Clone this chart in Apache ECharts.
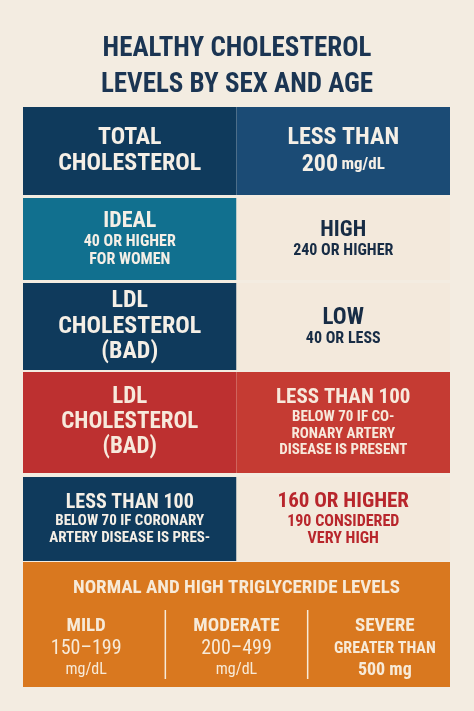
<!DOCTYPE html>
<html><head><meta charset="utf-8">
<script src="https://cdn.jsdelivr.net/npm/echarts@6/dist/echarts.min.js"></script>
<style>html,body{margin:0;background:#f3ece1}#c{width:474px;height:711px}</style>
</head><body><div id="c"></div>
<script>
const FONT = '"Liberation Sans Narrow","Roboto Condensed","Roboto",sans-serif';
const titleLines = ['HEALTHY CHOLESTEROL', 'LEVELS BY SEX AND AGE'];
// row bands (vertical extent in chart units, 0 = top of table)
const rowTops = [0, 91, 176, 265, 370];
const rowBottoms = [88, 173, 263, 366, 454];
const leftTexts = [
  ['TOTAL', 'CHOLESTEROL'],
  ['IDEAL', '40 OR HIGHER', 'FOR WOMEN'],
  ['LDL', 'CHOLESTEROL', '(BAD)'],
  ['LDL', 'CHOLESTEROL', '(BAD)'],
  ['LESS THAN 100', 'BELOW 70 IF CORONARY', 'ARTERY DISEASE IS PRES-']
];
const rightTexts = [
  ['LESS THAN', '200 mg/dL'],
  ['HIGH', '240 OR HIGHER'],
  ['LOW', '40 OR LESS'],
  ['LESS THAN 100', 'BELOW 70 IF CO-', 'RONARY ARTERY', 'DISEASE IS PRESENT'],
  ['160 OR HIGHER', '190 CONSIDERED', 'VERY HIGH']
];
const leftFill = ['#0f3a5c', '#11708f', '#0f3a5c', '#bd3030', '#0f3a5c'];
const rightFill = ['#1b4b75', '#f3e9dc', '#f3e9dc', '#c53b33', '#f3e9dc'];
const leftInk = ['#f5efe6', '#f5efe6', '#f5efe6', '#f7e9dc', '#f5efe6'];
const rightInk = ['#f5efe6', '#172c45', '#172c45', '#f7e9dc', '#b8262c'];
const leftSizes = [[24, 24], [22, 16, 16], [24, 24, 24], [23, 23, 23], [20, 15, 15]];
const rightSizes = [[24, 24], [22, 16], [23, 16], [21, 15, 15, 15], [21, 16, 16]];
const trigTitle = 'NORMAL AND HIGH TRIGLYCERIDE LEVELS';
const trigBand = [455, 580];
const trigNames = ['MILD', 'MODERATE', 'SEVERE'];
const trigRanges = ['150–199', '200–499', 'GREATER THAN'];
const trigUnits = ['mg/dL', 'mg/dL', '500 mg'];

const cells = [];
for (let i = 0; i < rowTops.length; i++) {
  cells.push([0, 1, rowTops[i], rowBottoms[i], i, 0]);
  cells.push([1, 2, rowTops[i], rowBottoms[i], i, 1]);
}
function textGroup(lines, sizes, ink, cx, cy) {
  const lh = sizes.map(s => s * 1.08);
  const total = lh.reduce((a, b) => a + b, 0);
  let y = cy - total / 2;
  return lines.map((t, k) => {
    const el = {type: 'text', style: {x: cx, y: y + lh[k] / 2, text: t, fill: ink,
      font: `bold ${sizes[k]}px ${FONT}`, align: 'center', verticalAlign: 'middle'}};
    y += lh[k];
    return el;
  });
}
const chart = echarts.init(document.getElementById('c'));
chart.setOption({
  backgroundColor: '#f3ece1',
  title: {text: titleLines.join('\n'), left: 'center', top: 26,
    textStyle: {color: '#1b3553', fontSize: 27, fontWeight: 'bold', fontFamily: FONT, lineHeight: 36}},
  grid: {left: 23, right: 24, top: 107, bottom: 24},
  xAxis: {type: 'value', min: 0, max: 2, show: false},
  yAxis: {type: 'value', min: 0, max: 580, inverse: true, show: false},
  series: [{
    type: 'custom', data: cells, animation: false,
    renderItem(params, api) {
      const p0 = api.coord([api.value(0), api.value(2)]);
      const p1 = api.coord([api.value(1), api.value(3)]);
      const i = api.value(4), side = api.value(5);
      const fill = side ? rightFill[i] : leftFill[i];
      const ink = side ? rightInk[i] : leftInk[i];
      const lines = side ? rightTexts[i] : leftTexts[i];
      const sizes = side ? rightSizes[i] : leftSizes[i];
      let children = [{type: 'rect', shape: {x: p0[0], y: p0[1], width: p1[0] - p0[0], height: p1[1] - p0[1]}, style: {fill}}];
      if (side === 1 && i === 0) {
        const cx = (p0[0] + p1[0]) / 2, cy = (p0[1] + p1[1]) / 2;
        children.push({type: 'text', style: {x: cx, y: cy - 13, text: lines[0], fill: ink, font: `bold 24px ${FONT}`, align: 'center', verticalAlign: 'middle'}});
        const parts = lines[1].split(' ');
        children.push({type: 'text', style: {x: cx, y: cy + 14, text: `{a|${parts[0]}} {b|${parts[1]}}`, align: 'center', verticalAlign: 'middle',
          rich: {a: {fill: ink, font: `bold 24px ${FONT}`}, b: {fill: ink, font: `bold 17px ${FONT}`}}}});
      } else {
        children = children.concat(textGroup(lines, sizes, ink, (p0[0] + p1[0]) / 2, (p0[1] + p1[1]) / 2));
      }
      return {type: 'group', children};
    }
  }, {
    type: 'custom', data: [[0, 2, trigBand[0], trigBand[1]]], animation: false,
    renderItem(params, api) {
      const p0 = api.coord([api.value(0), api.value(2)]);
      const p1 = api.coord([api.value(1), api.value(3)]);
      const w = p1[0] - p0[0], h = p1[1] - p0[1];
      const ink = '#f7ead8';
      const ch = [{type: 'rect', shape: {x: p0[0], y: p0[1], width: w, height: h}, style: {fill: '#d9781f'}},
        {type: 'text', style: {x: p0[0] + w / 2, y: p0[1] + 26, text: trigTitle, fill: ink, font: `bold 19px ${FONT}`, align: 'center', verticalAlign: 'middle'}}];
      const cw = w / 3;
      [1, 2].forEach(k => ch.push({type: 'line', shape: {x1: p0[0] + cw * k, y1: p0[1] + 48, x2: p0[0] + cw * k, y2: p0[1] + 117}, style: {stroke: ink, lineWidth: 1.5}}));
      trigNames.forEach((n, k) => {
        const cx = p0[0] + cw * (k + 0.5) + (k === 0 ? -8 : k === 2 ? 6 : 0);
        ch.push({type: 'text', style: {x: cx, y: p0[1] + 64, text: n, fill: ink, font: `bold 19px ${FONT}`, align: 'center', verticalAlign: 'middle'}});
        ch.push({type: 'text', style: {x: cx, y: p0[1] + 87, text: trigRanges[k], fill: ink, font: `${k === 2 ? 'bold 16px' : '20px'} ${FONT}`, align: 'center', verticalAlign: 'middle'}});
        ch.push({type: 'text', style: {x: cx, y: p0[1] + 108, text: trigUnits[k], fill: ink, font: `${k === 2 ? 'bold 18px' : '16px'} ${FONT}`, align: 'center', verticalAlign: 'middle'}});
      });
      return {type: 'group', children: ch};
    }
  }]
});
</script></body></html>
